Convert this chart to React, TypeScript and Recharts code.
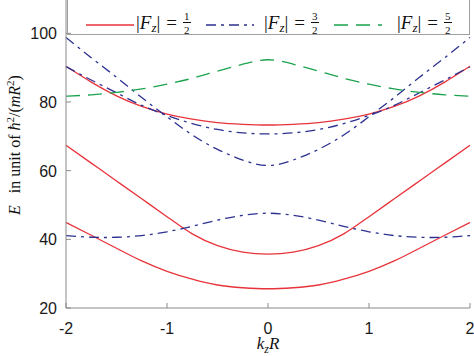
import React from "react";
import { LineChart, Line, XAxis, YAxis } from "recharts";

// k_z R sample points
const kValues = [-2, -1.75, -1.5, -1.25, -1, -0.75, -0.5, -0.25, 0, 0.25, 0.5, 0.75, 1, 1.25, 1.5, 1.75, 2];

// |Fz| = 1/2 branches
const halfTop = [90.4, 85.8, 81.8, 78.7, 76.5, 75.0, 74.0, 73.5, 73.3, 73.5, 74.0, 75.0, 76.5, 78.7, 81.8, 85.8, 90.4];
const halfMid = [67.4, 62.2, 57.0, 51.8, 46.6, 41.6, 38.2, 36.3, 35.7, 36.3, 38.2, 41.6, 46.6, 51.8, 57.0, 62.2, 67.4];
const halfLow = [44.9, 41.2, 37.4, 33.7, 30.7, 28.4, 26.7, 25.9, 25.6, 25.9, 26.7, 28.4, 30.7, 33.7, 37.4, 41.2, 44.9];

// |Fz| = 3/2 branches
const threeTop = [98.8, 92.9, 87.2, 81.3, 75.7, 70.4, 66.2, 63.1, 61.5, 63.1, 66.2, 70.4, 75.7, 81.3, 87.2, 92.9, 98.8];
const threeMid = [90.3, 86.4, 82.7, 79.0, 76.1, 73.7, 72.0, 71.0, 70.7, 71.0, 72.0, 73.7, 76.1, 79.0, 82.7, 86.4, 90.3];
const threeLow = [41.1, 40.6, 40.6, 41.1, 42.2, 43.8, 45.6, 47.0, 47.6, 47.0, 45.6, 43.8, 42.2, 41.1, 40.6, 40.6, 41.1];

// |Fz| = 5/2
const five = [81.7, 82.1, 82.8, 83.8, 85.2, 86.9, 89.0, 91.0, 92.3, 91.0, 89.0, 86.9, 85.2, 83.8, 82.8, 82.1, 81.7];

const xTicks = [-2, -1, 0, 1, 2];
const yTicks = [20, 40, 60, 80, 100];

const RED = "#e8333b";
const BLUE = "#2d3190";
const GREEN = "#1ba34e";
const AXIS = "#8a8a8a";
const BLUE_DASH = "10 5 3 5";
const GREEN_DASH = "14 8";

const data = kValues.map((k, i) => ({
  k,
  h1: halfTop[i],
  h2: halfMid[i],
  h3: halfLow[i],
  t1: threeTop[i],
  t2: threeMid[i],
  t3: threeLow[i],
  f1: five[i],
}));

const series = [
  { key: "h1", color: RED, dash: undefined },
  { key: "h2", color: RED, dash: undefined },
  { key: "h3", color: RED, dash: undefined },
  { key: "t1", color: BLUE, dash: BLUE_DASH },
  { key: "t2", color: BLUE, dash: BLUE_DASH },
  { key: "t3", color: BLUE, dash: BLUE_DASH },
  { key: "f1", color: GREEN, dash: GREEN_DASH },
];

const legendItems = [
  { num: "1", color: RED, dash: undefined, lineX: 18, textX: 68 },
  { num: "3", color: BLUE, dash: BLUE_DASH, lineX: 138, textX: 196 },
  { num: "5", color: GREEN, dash: GREEN_DASH, lineX: 266, textX: 329 },
];

const tickFont = { fontFamily: '"Liberation Sans", Arial, sans-serif', fontSize: 16, fill: "#1a1a1a" };
const serif = '"Liberation Serif", "Times New Roman", serif';

const BottomTick = (p: any) => (
  <g>
    <line x1={p.x} y1={p.y} x2={p.x} y2={p.y - 5} stroke={AXIS} />
    <text x={p.x} y={p.y + 26} textAnchor="middle" {...tickFont}>{p.payload.value}</text>
  </g>
);
const TopTick = (p: any) => <line x1={p.x} y1={p.y} x2={p.x} y2={p.y + 5} stroke={AXIS} />;
const LeftTick = (p: any) => (
  <g>
    <line x1={p.x} y1={p.y} x2={p.x + 5} y2={p.y} stroke={AXIS} />
    <text x={p.x - 9} y={p.y + 6} textAnchor="end" {...tickFont}>{p.payload.value}</text>
  </g>
);
const RightTick = (p: any) => <line x1={p.x} y1={p.y} x2={p.x - 5} y2={p.y} stroke={AXIS} />;

const FzText = ({ num }: { num: string }) => (
  <span style={{ fontFamily: serif, fontSize: 19, color: "#111", display: "inline-flex", alignItems: "center", whiteSpace: "nowrap" }}>
    <span>|</span>
    <i>F</i>
    <i style={{ fontSize: 13, position: "relative", top: 5 }}>z</i>
    <span>|</span>
    <span style={{ margin: "0 6px" }}>=</span>
    <span style={{ display: "inline-flex", flexDirection: "column", alignItems: "center", fontSize: 11, lineHeight: "12px" }}>
      <span style={{ borderBottom: "1px solid #111", padding: "0 1px", marginBottom: 1 }}>{num}</span>
      <span>2</span>
    </span>
  </span>
);

export default function App() {
  return (
    <div style={{ position: "absolute", left: 0, top: 0, width: 474, height: 356, overflow: "hidden", background: "#fff" }}>
      <div style={{ position: "absolute", left: 0, top: -1 }}>
        <LineChart width={474} height={357} data={data} margin={{ top: 0, right: 4, bottom: 0, left: 0 }}>
          <XAxis
            dataKey="k"
            type="number"
            domain={[-2, 2]}
            ticks={xTicks}
            interval={0}
            height={48}
            tickSize={0}
            tickMargin={0}
            tickLine={false}
            tick={BottomTick}
            axisLine={{ stroke: AXIS }}
          />
          <XAxis
            xAxisId="top"
            orientation="top"
            dataKey="k"
            type="number"
            domain={[-2, 2]}
            ticks={xTicks}
            interval={0}
            height={0}
            tickSize={0}
            tickMargin={0}
            tickLine={false}
            tick={TopTick}
            axisLine={{ stroke: AXIS }}
          />
          <YAxis
            type="number"
            domain={[20, 110]}
            ticks={yTicks}
            interval={0}
            width={66}
            tickSize={0}
            tickMargin={0}
            tickLine={false}
            tick={LeftTick}
            axisLine={{ stroke: AXIS }}
          />
          <YAxis
            yAxisId="right"
            orientation="right"
            type="number"
            domain={[20, 110]}
            ticks={yTicks}
            interval={0}
            width={0}
            tickSize={0}
            tickMargin={0}
            tickLine={false}
            tick={RightTick}
            axisLine={{ stroke: AXIS }}
          />
          {series.map((s) => (
            <Line
              key={s.key}
              type="natural"
              dataKey={s.key}
              stroke={s.color}
              strokeWidth={1.3}
              strokeDasharray={s.dash}
              dot={false}
              activeDot={false}
              isAnimationActive={false}
            />
          ))}
        </LineChart>
      </div>

      {/* legend box */}
      <div style={{ position: "absolute", left: 67, top: -3, width: 401, height: 36, border: "1px solid #a0a0a0" }}>
        {legendItems.map((it) => (
          <React.Fragment key={it.num}>
            <svg style={{ position: "absolute", left: it.lineX, top: 23 }} width={48} height={8}>
              <line x1={0} y1={4} x2={48} y2={4} stroke={it.color} strokeWidth={1.3} strokeDasharray={it.dash} />
            </svg>
            <div style={{ position: "absolute", left: it.textX, top: 12 }}>
              <FzText num={it.num} />
            </div>
          </React.Fragment>
        ))}
      </div>

      {/* y label */}
      <div
        style={{
          position: "absolute",
          left: 14,
          top: 145,
          transform: "translate(-50%, -50%) rotate(-90deg)",
          fontFamily: serif,
          fontSize: 16,
          color: "#111",
          whiteSpace: "nowrap",
        }}
      >
        <i>E</i>
        <span style={{ marginLeft: 12 }}>in unit of </span>
        <i>ħ</i>
        <sup style={{ fontSize: 11 }}>2</sup>/(<i>mR</i>
        <sup style={{ fontSize: 11 }}>2</sup>)
      </div>

      {/* x label */}
      <div style={{ position: "absolute", left: 268, top: 334, transform: "translateX(-50%)", fontFamily: serif, fontSize: 17, color: "#111", whiteSpace: "nowrap" }}>
        <i>k</i>
        <i style={{ fontSize: 12, position: "relative", top: 4 }}>z</i>
        <i>R</i>
      </div>
    </div>
  );
}
